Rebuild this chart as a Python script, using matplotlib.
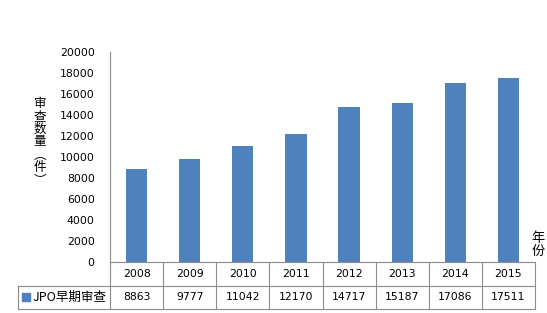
import matplotlib
matplotlib.use("Agg")
import matplotlib.pyplot as plt
from matplotlib.patches import Rectangle
from matplotlib.transforms import blended_transform_factory

plt.rcParams['font.family'] = ['Noto Sans CJK SC', 'DejaVu Sans']

years = ['2008', '2009', '2010', '2011', '2012', '2013', '2014', '2015']
counts = [8863, 9777, 11042, 12170, 14717, 15187, 17086, 17511]
series_name = 'JPO早期审查'
y_ticks = list(range(0, 20001, 2000))

blue = '#4F81BD'
grid_gray = '#8C8C8C'

fig = plt.figure(figsize=(5.47, 3.13), dpi=100)
ax = fig.add_axes([110 / 547, 1 - 262 / 313, 425 / 547, 210 / 313])

x = list(range(len(years)))
ax.bar(x, counts, width=0.4, color=blue, zorder=2)
ax.set_xlim(-0.5, len(years) - 0.5)
ax.set_ylim(0, 20000)
ax.set_yticks(y_ticks)
ax.set_yticklabels([str(v) for v in y_ticks], fontsize=7.8, family='DejaVu Sans')
ax.tick_params(axis='y', length=0, pad=11)
ax.set_xticks([])
for s in ['top', 'right', 'bottom']:
    ax.spines[s].set_visible(False)
ax.spines['left'].set_color(grid_gray)
ax.spines['left'].set_linewidth(0.8)

# data table under the axis
row1 = -24 / 210
row2 = -47 / 210
tr = blended_transform_factory(ax.transData, ax.transAxes)
lkw = dict(color=grid_gray, lw=0.8, clip_on=False, transform=tr)
for y in [0, row1, row2]:
    ax.plot([-0.5, len(years) - 0.5], [y, y], **lkw)
for i in range(len(years) + 1):
    ax.plot([i - 0.5, i - 0.5], [0, row2], **lkw)
for i, (yr, v) in enumerate(zip(years, counts)):
    ax.text(i, row1 / 2, yr, ha='center', va='center', fontsize=7.8,
            family='DejaVu Sans', transform=tr)
    ax.text(i, (row1 + row2) / 2, str(v), ha='center', va='center', fontsize=7.8,
            family='DejaVu Sans', transform=tr)

# legend cell at the left of the data row
fy = lambda py: 1 - py / 313
fx = lambda px: px / 547
for xs, ys in [([18, 110], [286, 286]), ([18, 110], [309, 309]), ([18, 18], [286, 309])]:
    fig.add_artist(plt.Line2D([fx(v) for v in xs], [fy(v) for v in ys], color=grid_gray,
                              lw=0.8, transform=fig.transFigure))
fig.add_artist(Rectangle((fx(22), fy(301)), 8 / 547, 8 / 313, color=blue,
                         transform=fig.transFigure))
fig.text(fx(33), fy(297.5), series_name, ha='left', va='center', fontsize=9)

# axis titles, stacked vertically
fig.text(fx(40), fy(142), '\n'.join('审查数量︵件︶'), ha='center', va='center',
         fontsize=9, linespacing=0.98)
fig.text(fx(538), fy(245), '\n'.join('年份'), ha='center', va='center',
         fontsize=9.5, linespacing=0.98)

fig.savefig('out.png', dpi=100)
